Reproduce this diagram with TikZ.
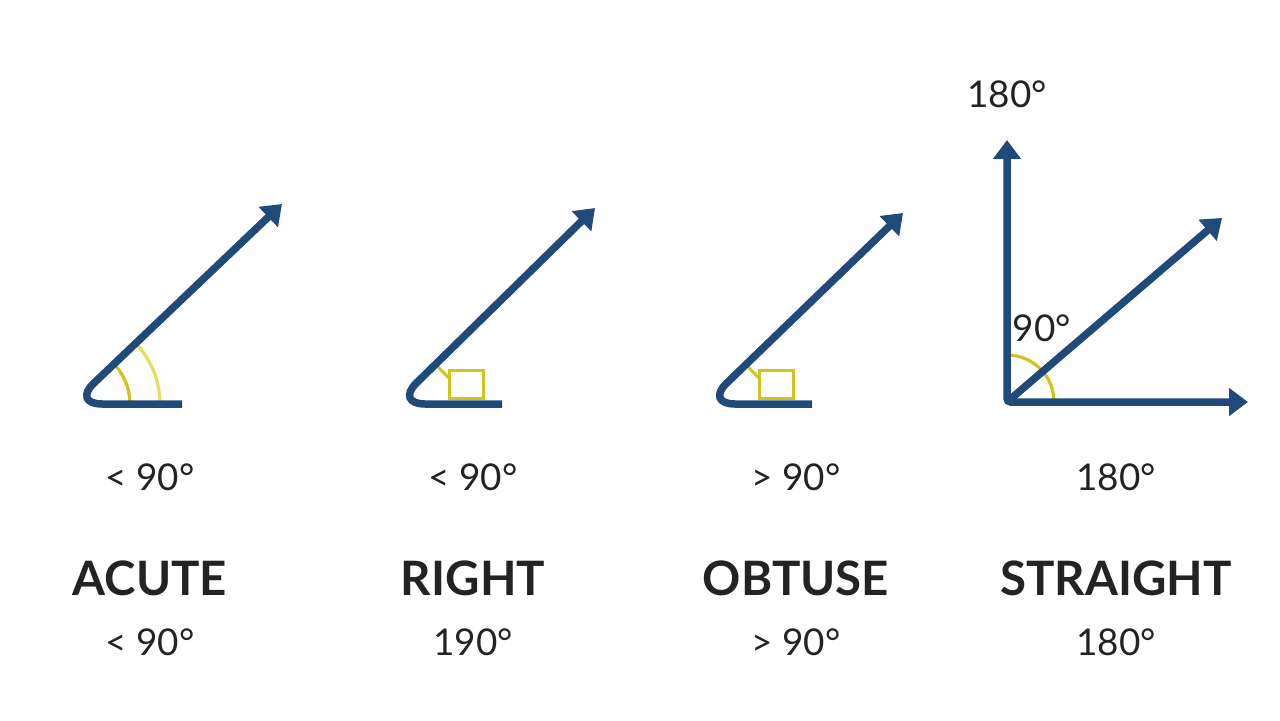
\documentclass[tikz,border=0pt]{standalone}
\usepackage{fontspec}
\setmainfont{Lato}
\usepackage{xcolor}
\usepackage{tikz}
\usetikzlibrary{arrows.meta}
\usetikzlibrary{calc}
\usetikzlibrary{positioning}
\definecolor{ray-blue}{HTML}{1F4A7A}
\definecolor{mark-yellow}{HTML}{D3C41C}
\definecolor{mark-light}{HTML}{E9DD5C}
\definecolor{label-grey}{HTML}{232323}
\tikzset{node distance=0.6cm, >={Triangle[length=0.38cm, width=0.54cm]}, every text node part/.style={align=center}}
\tikzstyle{ray} = [draw=ray-blue, line width=0.15cm, ->]
\tikzstyle{anglemark} = [draw=mark-yellow, line width=0.065cm]
\tikzstyle{value} = [text=label-grey, inner sep=0pt, font={\fontsize{21}{25}\selectfont}]
\tikzstyle{kind} = [text=label-grey, inner sep=0pt, font={\fontsize{27}{32}\selectfont\bfseries}]

\begin{document}
\begin{tikzpicture}[x=0.02cm, y=0.02cm,
        loopcorner/.style={rounded corners=0.6cm},
        square/.style={anglemark, line width=0.06cm}
      ]
      \useasboundingbox (0,0) rectangle (1280,-720);
      % vertices, ends and tips
      \coordinate (acute-v)    at (72,-404);
      \coordinate (acute-h)    at (182,-404);
      \coordinate (acute-t)    at (282,-204);
      \coordinate (right-v)    at (395,-404);
      \coordinate (right-h)    at (502,-404);
      \coordinate (right-t)    at (595,-208);
      \coordinate (obtuse-v)   at (705,-404);
      \coordinate (obtuse-h)   at (812,-404);
      \coordinate (obtuse-t)   at (903,-213);
      \coordinate (straight-v) at (1007,-402);
      \coordinate (straight-u) at (1007,-140);
      \coordinate (straight-h) at (1248,-402);
      \coordinate (straight-t) at (1222,-218);
      % yellow marks
      \draw[anglemark]                ($(acute-v)+(58,0)$) arc[start angle=0, end angle=43.6, radius=58];
      \draw[anglemark, draw=mark-light] ($(acute-v)+(88,0)$) arc[start angle=0, end angle=43.6, radius=88];
      \draw[square]                   ($(right-v)+(54,6)$) rectangle ($(right-v)+(88,34)$);
      \draw[square]                   ($(right-v)+(42,38)$) -- ($(right-v)+(54,26)$);
      \draw[square]                   ($(obtuse-v)+(54,6)$) rectangle ($(obtuse-v)+(88,34)$);
      \draw[square]                   ($(obtuse-v)+(42,38)$) -- ($(obtuse-v)+(54,26)$);
      \draw[anglemark]                ($(straight-v)+(47,0)$) arc[start angle=0, end angle=90, radius=47];
      % rays
      \draw[ray, loopcorner]          (acute-h) -- (acute-v) -- (acute-t);
      \draw[ray, loopcorner]          (right-h) -- (right-v) -- (right-t);
      \draw[ray, loopcorner]          (obtuse-h) -- (obtuse-v) -- (obtuse-t);
      \draw[ray, <->, rounded corners=2pt] (straight-u) -- (straight-v) -- (straight-h);
      \draw[ray]                      (straight-v) -- (straight-t);
      % labels
      \node[kind]        (acute)        at (150,-578)             {ACUTE};
      \node[kind]        (right)        at (473,-578)             {RIGHT};
      \node[kind]        (obtuse)       at (796,-578)             {OBTUSE};
      \node[kind]        (straight)     at (1116,-578)            {STRAIGHT};
      \node[value]       (acute-top)    [above=1.38cm of acute]    {< 90°};
      \node[value]       (right-top)    [above=1.38cm of right]    {< 90°};
      \node[value]       (obtuse-top)   [above=1.38cm of obtuse]   {> 90°};
      \node[value]       (straight-top) [above=1.38cm of straight] {180°};
      \node[value]       (acute-bot)    [below=0.66cm of acute]    {< 90°};
      \node[value]       (right-bot)    [below=0.66cm of right]    {190°};
      \node[value]       (obtuse-bot)   [below=0.66cm of obtuse]   {> 90°};
      \node[value]       (straight-bot) [below=0.66cm of straight] {180°};
      \node[value]       (up-val)       [above=0.63cm of straight-u] {180°};
      \node[value]       (right-val)    at (1042,-328)            {90°};
    \end{tikzpicture}
\end{document}
